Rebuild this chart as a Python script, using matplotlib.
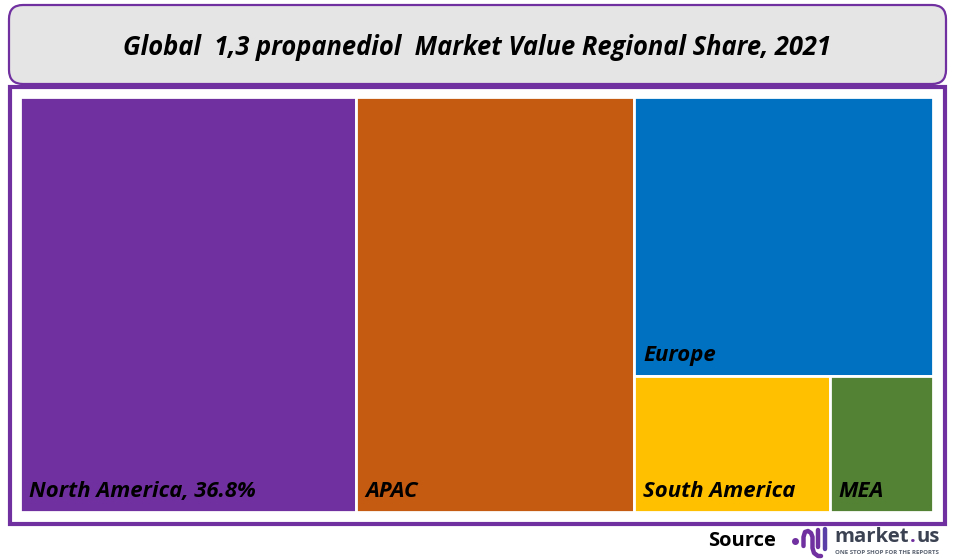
import matplotlib
matplotlib.use("Agg")
import matplotlib.pyplot as plt
from matplotlib.patches import FancyBboxPatch, Rectangle

plt.rcParams['font.family'] = ['Open Sans', 'DejaVu Sans']

title = "Global  1,3 propanediol  Market Value Regional Share, 2021"
regions = ["North America", "APAC", "Europe", "South America", "MEA"]
shares = [36.8, 30.5, 22.0, 7.0, 3.7]
labels = ["North America, 36.8%", "APAC", "Europe", "South America", "MEA"]
colors = ["#7030A0", "#C55A11", "#0070C0", "#FFC000", "#548235"]
purple = "#7030A0"

fig = plt.figure(figsize=(9.6, 5.6), dpi=100)

# background layer in pixel coordinates, y going down
bg = fig.add_axes([0, 0, 1, 1])
bg.set_xlim(0, 960)
bg.set_ylim(560, 0)
bg.axis("off")

bg.add_patch(FancyBboxPatch((9, 5), 937, 79, boxstyle="round,pad=0,rounding_size=14",
                            fc="#E5E5E5", ec=purple, lw=1.6))
bg.text(477, 47.5, title, ha="center", va="center", fontsize=18.4, fontweight="bold",
        style="italic", color="black")
bg.add_patch(Rectangle((10, 87), 935, 436.5, fc="white", ec=purple, lw=3))

bg.text(742, 541, "Source", ha="center", va="center", fontsize=14.5, fontweight="bold", color="black")

# logo
bg.plot([795], [540.5], "o", color=purple, ms=4)
bg.plot([803.5, 803.5, 805, 808, 811, 812.5, 812.5, 814, 818, 821],
        [546, 537, 532, 531, 533, 537, 548, 553, 556, 556],
        color=purple, lw=3.2, solid_capstyle="round", solid_joinstyle="round")
bg.plot([817.5, 817.5], [530, 547], color=purple, lw=3.2, solid_capstyle="round")
bg.plot([825, 825], [529, 549], color="#5B3FA8", lw=3.2, solid_capstyle="round")
bg.text(834, 537.5, "market", ha="left", va="center", fontsize=14.6, fontweight="bold", color="#3B4252")
bg.text(910, 537.5, ".", ha="left", va="center", fontsize=14.6, fontweight="bold", color=purple, zorder=5)
bg.text(917, 537.5, "us", ha="left", va="center", fontsize=14.6, fontweight="bold", color="#3B4252")
bg.text(835, 552.5, "ONE STOP SHOP FOR THE REPORTS", ha="left", va="center", fontsize=4.4,
        fontweight="bold", color="#5A6270")

# treemap
ax = fig.add_axes([20 / 960, 1 - 512 / 560, 913 / 960, 414.5 / 560])
ax.set_xlim(0, sum(shares))
ax.set_ylim(0, 1)
ax.axis("off")


def draw_cell(i, x, y, w, h):
    ax.add_patch(Rectangle((x, y), w, h, fc=colors[i], ec="white", lw=2))
    ax.annotate(labels[i], xy=(x, y), xytext=(9, 10), textcoords="offset pixels",
                ha="left", va="bottom", fontsize=15.9, fontweight="bold", style="italic", color="black")


# two big regions are full-height columns, rest goes into the third column
x = 0
draw_cell(0, x, 0, shares[0], 1)
x += shares[0]
draw_cell(1, x, 0, shares[1], 1)
x += shares[1]

rest = sum(shares[2:])
low = sum(shares[3:]) / rest
draw_cell(2, x, low, rest, 1 - low)
w_sa = rest * shares[3] / sum(shares[3:])
draw_cell(3, x, 0, w_sa, low)
draw_cell(4, x + w_sa, 0, rest - w_sa, low)

fig.savefig("out.png", dpi=100)
